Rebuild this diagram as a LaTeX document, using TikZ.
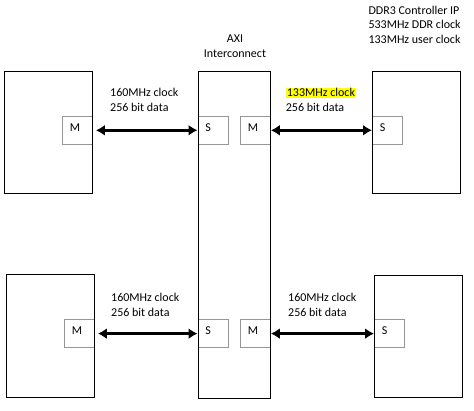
\documentclass[tikz,border=0pt]{standalone}
\usepackage{fontspec}
\setmainfont{Carlito}
\usepackage{tikz}
\usetikzlibrary{arrows.meta}

\definecolor{hilite}{RGB}{255,255,0}
\definecolor{portgray}{RGB}{150,150,150}
\setlength{\fboxsep}{1pt}

\tikzset{
    block/.style={draw=black, line width=1.1pt, anchor=north west, inner sep=0},
    port/.style={draw=portgray, line width=0.9pt, anchor=north west,
        inner sep=7.5pt, text width=15pt, align=left,
        text height=8pt, text depth=5.3pt},
    buslabel/.style={anchor=north west, inner sep=0, align=left},
    bus/.style={line width=2.4pt, {Latex[length=9pt,width=11pt]}-{Latex[length=9pt,width=11pt]}}
}

\begin{document}
\begin{tikzpicture}[x=1pt, y=-1pt, font=\fontsize{12}{14.6}\selectfont]
\useasboundingbox (0,0) rectangle (474,410);
% Ports go in first, so that
% the black box edges sit on top
% of the grey port edges.
\node[port] (srcTopM) at (62,115.7) {M};
\node[port] (axiTopS) at (197.5,115.7) {S};
\node[port] (axiTopM) at (240,115.7) {M};
\node[port] (ddrS) at (372,115.7) {S};
\node[port] (srcBotM) at (64,319) {M};
\node[port] (axiBotS) at (197.5,319) {S};
\node[port] (axiBotM) at (240,319) {M};
\node[port] (memBotS) at (374,319) {S};
% The big blocks themselves
\node[block, minimum width=88pt, minimum height=122pt] (srcTop) at (4,70.7) {};
\node[block, minimum width=72.5pt, minimum height=327.5pt] (axi) at (197.5,70.7) {};
\node[block, minimum width=88pt, minimum height=122pt] (ddr) at (372,70.7) {};
\node[block, minimum width=88pt, minimum height=122.7pt] (srcBot) at (6,274) {};
\node[block, minimum width=88pt, minimum height=122pt] (memBot) at (374,275) {};
% Titles above the blocks
\node[anchor=north, inner sep=0, align=center] (axiTitle) at (235,35) {AXI\\Interconnect};
\node[anchor=north west, inner sep=0, align=left] (ddrTitle) at (368.3,5.7)
    {DDR3 Controller IP\\533MHz DDR clock\\133MHz user clock};
% Bus labels
\node[buslabel] (busA) at (110,88.3) {160MHz clock\\256 bit data};
\node[buslabel] (busB) at (285.7,87.3) {\colorbox{hilite}{133MHz clock}\\256 bit data};
\node[buslabel] (busC) at (111,293.3) {160MHz clock\\256 bit data};
\node[buslabel] (busD) at (288,293.3) {160MHz clock\\256 bit data};
% The buses, from master to slave
\draw[bus, shorten <=3pt] (srcTopM.east) -- (axiTopS.west);
\draw[bus] (axiTopM.east) -- (ddrS.west);
\draw[bus, shorten <=3pt] (srcBotM.east) -- (axiBotS.west);
\draw[bus] (axiBotM.east) -- (memBotS.west);
\end{tikzpicture}
\end{document}
